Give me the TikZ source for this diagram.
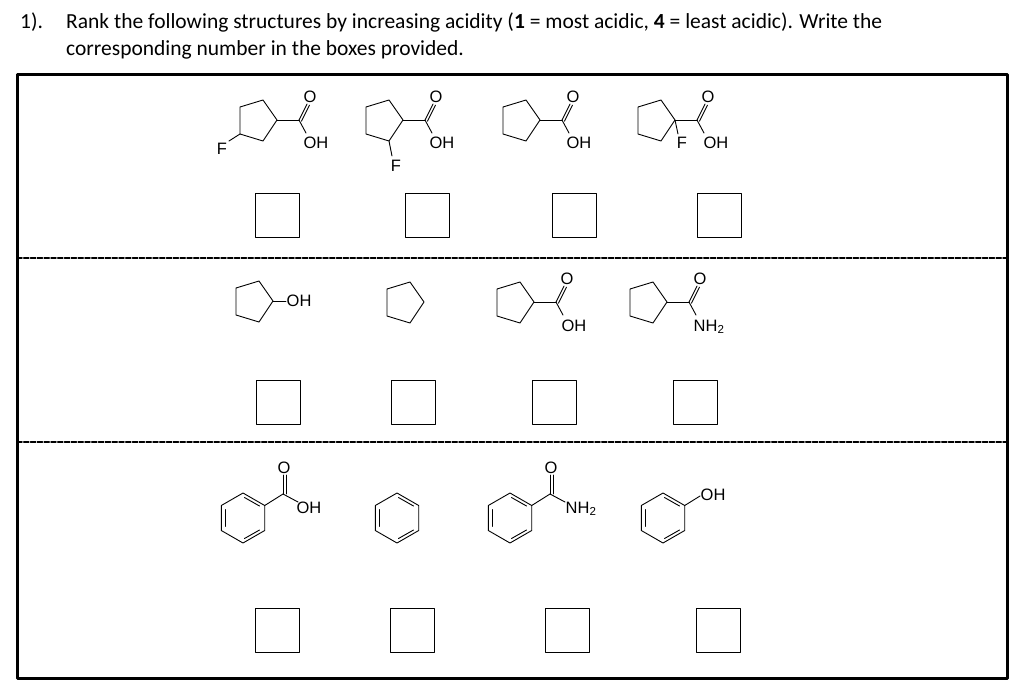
\documentclass[tikz,border=0pt]{standalone}
\usepackage{fontspec}
\setmainfont{Carlito}
\newfontfamily\chemf{Liberation Sans}
\begin{document}
\begin{tikzpicture}[x=1pt,y=-1pt,line cap=round,line join=round,
  bond/.style={line width=0.9pt},
  lab/.style={font=\chemf\fontsize{16.5}{16.5}\selectfont,inner sep=0.5pt},
  ansbox/.style={draw,line width=1.1pt,minimum size=44pt,inner sep=0,anchor=north west},
  sep/.style={line width=1.5pt,dash pattern=on 5pt off 1.8pt},
  title/.style={font=\fontsize{21.5}{26}\selectfont,anchor=base west,inner sep=0}]
\useasboundingbox (0,0) rectangle (1024,697);
% title
\node[title] (num) at (20,28) {1).};
\node[title] (t1) at (66,28) {Rank the following structures by increasing acidity (\textbf{1} = most acidic, \textbf{4} = least acidic). Write the};
\node[title] (t2) at (66,55) {corresponding number in the boxes provided.};
% frame
\draw[line width=3pt] (17,74) rectangle (1007,678);
\draw[sep] (17,258) -- (1007,258);
\draw[sep] (17,442) -- (1007,442);
% macros
\newcommand{\pent}{\draw[bond] (0,0) -- (-14,-20) -- (-37,-13) -- (-37,14) -- (-14,21) -- cycle;}
\newcommand{\cooh}[1]{\draw[bond] (0,0) -- (22,0);
  \draw[bond] (22,0) -- (30,-16); \draw[bond] (24.5,1.2) -- (32.5,-14.8);
  \node[lab] (#1o) at (33,-23) {O};
  \draw[bond] (22,0) -- (29,13);}
\newcommand{\benz}{\draw[bond] (0,-25) -- (21.7,-12.5) -- (21.7,12.5) -- (0,25) -- (-21.7,12.5) -- (-21.7,-12.5) -- cycle;
  \draw[bond] (-17.5,-8.5) -- (-17.5,8.5);
  \draw[bond] (1.5,-20.5) -- (16.5,-12);
  \draw[bond] (1.5,20.5) -- (16.5,12);}
% row 1
\begin{scope}[shift={(277,120)}]
 \pent \cooh{a} \node[lab] (aoh) at (39,23) {OH};
 \draw[bond] (-37,14) -- (-48,21); \node[lab] (af) at (-55,29) {F};
\end{scope}
\begin{scope}[shift={(403,120)}]
 \pent \cooh{b} \node[lab] (boh) at (39,23) {OH};
 \draw[bond] (-14,21) -- (-11,36); \node[lab] (bf) at (-7,46) {F};
\end{scope}
\begin{scope}[shift={(540,120)}]
 \pent \cooh{c} \node[lab] (coh) at (39,23) {OH};
\end{scope}
\begin{scope}[shift={(675,120)}]
 \pent \cooh{d} \node[lab] (doh) at (41,23) {OH};
 \draw[bond] (0,0) -- (3,14); \node[lab] (df) at (7,23) {F};
\end{scope}
% row 2
\begin{scope}[shift={(273,301)}]
 \pent \draw[bond] (0,0) -- (13,0); \node[lab,anchor=west] (eoh) at (13,0) {OH};
\end{scope}
\begin{scope}[shift={(424,302)}]
 \pent
\end{scope}
\begin{scope}[shift={(534,302)}]
 \pent \cooh{g} \node[lab] (goh) at (40,24) {OH};
\end{scope}
\begin{scope}[shift={(667,302)}]
 \pent \cooh{h} \node[lab,anchor=west] (hnh) at (26,25) {NH\textsubscript{2}};
\end{scope}
% row 3
\begin{scope}[shift={(243,518)}]
 \benz \draw[bond] (21.7,-12.5) -- (40,-24);
 \draw[bond] (40,-24) -- (40,-43); \draw[bond] (43,-24) -- (43,-43);
 \node[lab] (io) at (41,-50) {O};
 \draw[bond] (40,-24) -- (55,-16);
 \node[lab] (ioh) at (66,-10) {OH};
\end{scope}
\begin{scope}[shift={(397,518)}]
 \benz
\end{scope}
\begin{scope}[shift={(510,518)}]
 \benz \draw[bond] (21.7,-12.5) -- (40,-24);
 \draw[bond] (40,-24) -- (40,-43); \draw[bond] (43,-24) -- (43,-43);
 \node[lab] (ko) at (41,-50) {O};
 \draw[bond] (40,-24) -- (55,-16);
 \node[lab,anchor=west] (knh) at (55,-9) {NH\textsubscript{2}};
\end{scope}
\begin{scope}[shift={(663,518)}]
 \benz \draw[bond] (21.7,-12.5) -- (37,-22);
 \node[lab,anchor=west] (loh) at (37,-23) {OH};
\end{scope}
% answer boxes
\node[ansbox] (b11) at (255,193) {};
\node[ansbox] (b12) at (405,193) {};
\node[ansbox] (b13) at (552,193) {};
\node[ansbox] (b14) at (697,193) {};
\node[ansbox] (b21) at (256,380) {};
\node[ansbox] (b22) at (391,380) {};
\node[ansbox] (b23) at (532,380) {};
\node[ansbox] (b24) at (673,380) {};
\node[ansbox] (b31) at (255,608) {};
\node[ansbox] (b32) at (390,608) {};
\node[ansbox] (b33) at (545,608) {};
\node[ansbox] (b34) at (696,608) {};
\end{tikzpicture}
\end{document}
